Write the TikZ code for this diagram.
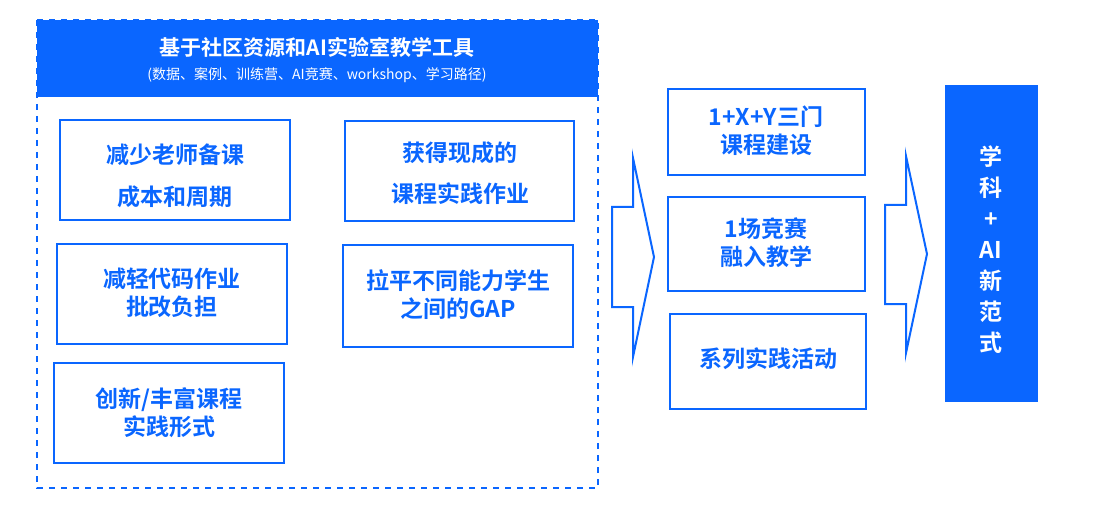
\documentclass[tikz,border=0pt]{standalone}
\usepackage{fontspec}
\setmainfont{Noto Sans CJK SC}[BoldFont={* Bold}]
\definecolor{mblue}{HTML}{0A66FF}
\begin{document}
\begin{tikzpicture}[x=0.5pt,y=-0.5pt,
  box/.style={draw=mblue,line width=1pt,fill=white},
  txt/.style={text=mblue,font=\fontsize{11.5}{14}\selectfont\bfseries,align=center},
  arr/.style={draw=mblue,line width=1pt,fill=white,line join=miter}]
  \useasboundingbox (0,0) rectangle (1115,508);

  % left panel
  \draw[mblue,dashed,line width=0.8pt] (37,20) rectangle (598,488);
  \fill[mblue] (37,20) rectangle (598,97);
  \node (title) [text=white,font=\fontsize{10.5}{12}\selectfont\bfseries] at (317,47) {基于社区资源和AI实验室教学工具};
  \node (sub) [text=white,font=\fontsize{7}{8}\selectfont] at (317,75) {(数据、案例、训练营、AI竞赛、workshop、学习路径)};

  \draw[box] (60,120) rectangle (290,220);
  \node (a1) [txt] at (175,155) {减少老师备课};
  \node (a2) [txt] at (175,197) {成本和周期};
  \draw[box] (345,121) rectangle (574,221);
  \node (b1) [txt] at (460,153) {获得现成的};
  \node (b2) [txt] at (460,194) {课程实践作业};
  \draw[box] (57,244) rectangle (287,344);
  \node (c) [txt] at (172,293) {减轻代码作业\\批改负担};
  \draw[box] (343,245) rectangle (573,347);
  \node (d) [txt] at (458,295) {拉平不同能力学生\\之间的GAP};
  \draw[box] (54,363) rectangle (284,463);
  \node (e) [txt] at (169,413) {创新/丰富课程\\实践形式};

  % arrows
  \draw[arr] (612,207) -- (633,207) -- (633,158) -- (654,257) -- (633,357) -- (633,307) -- (612,307) -- cycle;
  \draw[arr] (885,205) -- (906,205) -- (906,156) -- (927,254) -- (906,353) -- (906,304) -- (885,304) -- cycle;

  % middle column
  \draw[box] (668,89) rectangle (865,175);
  \node (f) [txt] at (766,131) {1+X+Y三门\\课程建设};
  \draw[box] (668,197) rectangle (865,291);
  \node (g) [txt] at (766,243) {1场竞赛\\融入教学};
  \draw[box] (670,314) rectangle (866,409);
  \node (h) [txt] at (768,359) {系列实践活动};

  % result
  \fill[mblue] (945,85) rectangle (1038,402);
  \node (res) [text=white,font=\fontsize{11.5}{15.5}\selectfont\bfseries,align=center] at (991,250) {学\\科\\+\\AI\\新\\范\\式};
\end{tikzpicture}
\end{document}
